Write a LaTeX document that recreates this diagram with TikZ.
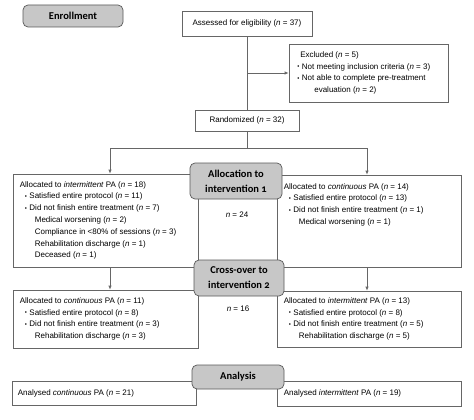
\documentclass[tikz,border=0pt]{standalone}
\usepackage{fontspec}
\setmainfont{Liberation Sans}
\newfontfamily\headfont[Numbers=OldStyle]{Carlito}
\usetikzlibrary{arrows.meta}
\newcommand{\bul}{\raisebox{0.4pt}{\fontsize{6}{6}\selectfont\textbullet}\hspace{2.5pt}}
\newcommand{\bitem}{\hspace*{5pt}\bul}
\newcommand{\sitem}{\hspace*{15pt}}
\newcommand{\nn}{\textit{n}}

\begin{document}
\begin{tikzpicture}[x=1pt,y=-1pt,>={Latex[length=4pt,width=3.5pt]},
 line/.style={draw=black!60,line width=0.7pt},
 panel/.style={line,inner sep=0pt,font=\fontsize{8}{11.8}\selectfont},
 stage/.style={line,draw=black!65,fill=black!22,rounded corners=5pt,inner sep=0pt,align=center,
   font=\headfont\bfseries\fontsize{10.5}{15}\selectfont},
 txt/.style={inner sep=0pt,align=left,font=\fontsize{8}{11.8}\selectfont}]
\useasboundingbox (0,0) rectangle (474,420);
% enrollment
\node[stage,minimum width=100,minimum height=22] (enrol) at (73,16) {Enrollment};
\node[panel,minimum width=130,minimum height=25] (assess) at (247,23.5) {Assessed for eligibility (\nn{} = 37)};
\node[panel,minimum width=159,minimum height=58] (excl) at (368.5,73) {};
\node[txt,anchor=west] (excl-t) at ([xshift=8.5]excl.west) {\hspace*{3pt}Excluded (\nn{} = 5)\\
 \bul Not meeting inclusion criteria (\nn{} = 3)\\
 \bul Not able to complete pre-treatment\\
 \hspace*{17pt}evaluation (\nn{} = 2)};
\node[panel,minimum width=104,minimum height=21] (rand) at (247,120.5) {Randomized (\nn{} = 32)};
\coordinate (alloc-split) at (247,148);
% allocation panels
\node[panel,minimum width=185,minimum height=93] (int1) at (105.5,220.5) {};
\node[panel,minimum width=184,minimum height=92] (cont1) at (369,221) {};
\node[txt,anchor=west] (int1-t) at ([xshift=7]int1.west) {Allocated to \textit{intermittent} PA (\nn{} = 18)\\
 \bitem Satisfied entire protocol (\nn{} = 11)\\
 \bitem Did not finish entire treatment (\nn{} = 7)\\
 \sitem Medical worsening (\nn{} = 2)\\
 \sitem Compliance in <80\% of sessions (\nn{} = 3)\\
 \sitem Rehabilitation discharge (\nn{} = 1)\\
 \sitem Deceased (\nn{} = 1)};
\node[txt,anchor=north west] (cont1-t) at ([shift={(7,8.5)}]cont1.north west) {Allocated to \textit{continuous} PA (\nn{} = 14)\\
 \bitem Satisfied entire protocol (\nn{} = 13)\\
 \bitem Did not finish entire treatment (\nn{} = 1)\\
 \sitem Medical worsening (\nn{} = 1)};
\node[txt] (n24) at (237,215) {\nn{} = 24};
% cross-over panels
\node[panel,minimum width=185,minimum height=58] (cont2) at (105.5,319) {};
\node[panel,minimum width=184,minimum height=56] (int2) at (369,319) {};
\node[txt,anchor=west] (cont2-t) at ([xshift=7]cont2.west) {Allocated to \textit{continuous} PA (\nn{} = 11)\\
 \bitem Satisfied entire protocol (\nn{} = 8)\\
 \bitem Did not finish entire treatment (\nn{} = 3)\\
 \sitem Rehabilitation discharge (\nn{} = 3)};
\node[txt,anchor=west] (int2-t) at ([xshift=7]int2.west) {Allocated to \textit{intermittent} PA (\nn{} = 13)\\
 \bitem Satisfied entire protocol (\nn{} = 8)\\
 \bitem Did not finish entire treatment (\nn{} = 5)\\
 \sitem Rehabilitation discharge (\nn{} = 5)};
\node[txt] (n16) at (238,309) {\nn{} = 16};
% analysis panels
\node[panel,minimum width=184,minimum height=24] (an-cont) at (104,393) {};
\node[panel,minimum width=184,minimum height=25] (an-int) at (369,393.5) {};
\node[txt,anchor=west] (an-cont-t) at ([xshift=6]an-cont.west) {Analysed \textit{continuous} PA (\nn{} = 21)};
\node[txt,anchor=west] (an-int-t) at ([xshift=7]an-int.west) {Analysed \textit{intermittent} PA (\nn{} = 19)};
% stage labels
\node[stage,minimum width=92,minimum height=36] (alloc) at (236,181) {Allocation to\\intervention 1};
\node[stage,minimum width=90,minimum height=36] (cross) at (239,278) {Cross-over to\\intervention 2};
\node[stage,minimum width=92,minimum height=24] (analysis) at (238,377) {Analysis};
% connectors
\draw[line] (assess) -- (rand);
\draw[line,->] (assess.south |- excl.west) -- (excl.west);
\draw[line] (rand) -- (alloc-split);
\draw[line,->] (alloc-split) -| ([xshift=4.5]int1.north);
\draw[line,->] (alloc-split) -| ([xshift=-2]cont1.north);
\draw[line,->] ([xshift=4.5]int1.south) -- ([xshift=4.5]cont2.north);
\draw[line,->] ([xshift=-2]cont1.south) -- ([xshift=-2]int2.north);
\end{tikzpicture}
\end{document}
